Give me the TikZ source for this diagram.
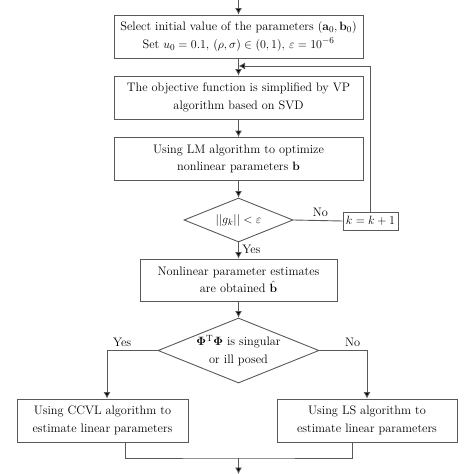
\documentclass[tikz,border=0pt]{standalone}
\usepackage{amsmath,amssymb}
\usepackage{tikz}
\usetikzlibrary{shapes.geometric,arrows.meta,calc}

\begin{document}
\begin{tikzpicture}[x=1pt, y=-1pt,
  every node/.style={font=\fontsize{12.3}{17.5}\selectfont, align=center},
  fcbox/.style={draw=black!65, line width=0.9pt, rectangle, minimum height=43pt, inner sep=1pt},
  process/.style={fcbox, minimum width=249pt},
  decision/.style={draw=black!65, line width=0.9pt, diamond, aspect=2.5, inner sep=-5pt},
  ptr/.style={-{Latex[length=6.5pt,width=7pt,fill=black]}, draw=black!65, line width=0.9pt},
  link/.style={draw=black!65, line width=0.9pt}
]
\useasboundingbox (0,0) rectangle (474,474);
\node[process] (init) at (238.5,36.5) {Select initial value of the parameters $(\mathbf{a}_0, \mathbf{b}_0)$\\ Set $u_0 = 0.1$, $(\rho, \sigma) \in (0, 1)$, $\varepsilon = 10^{-6}$};
\node[process] (obj) at (238.5,97.5) {The objective function is simplified by VP\\ algorithm based on SVD};
\node[process] (lm) at (238.5,159) {Using LM algorithm to optimize\\ nonlinear parameters $\mathbf{b}$};
\node[decision, minimum width=109pt, minimum height=44pt] (test) at (238.5,220) {$||g_k|| < \varepsilon$};
\node[fcbox, minimum width=55pt, minimum height=18pt, inner sep=0pt] (kinc) at (370.5,221) {$k = k + 1$};
\node[fcbox, minimum width=197pt, minimum height=42pt] (est) at (238.5,280) {Nonlinear parameter estimates\\ are obtained $\hat{\mathbf{b}}$};
\node[decision, minimum width=161pt, minimum height=65pt, inner sep=-14pt] (sing) at (238.5,350.5) {$\mathbf{\Phi}^{\mathrm{T}}\mathbf{\Phi}$ is singular\\ or ill posed};
\node[fcbox, minimum width=171pt] (ccvl) at (102.5,420.5) {Using CCVL algorithm to\\ estimate linear parameters};
\node[fcbox, minimum width=180pt] (ls) at (367,420.5) {Using LS algorithm to\\ estimate linear parameters};
\coordinate (start) at (238.5,0);
\coordinate (loop) at (238.5,66);
\coordinate (join) at (238.5,458);
\coordinate (stop) at (238.5,474);
% main line
\draw[ptr] (start) -- (init.north);
\draw[ptr] (init.south) -- (obj.north);
\draw[ptr] (obj.south) -- (lm.north);
\draw[ptr] (lm.south) -- (test.north);
\draw[ptr] (test.south) -- node[right, pos=0.4] {Yes} (est.north);
\draw[ptr] (est.south) -- (sing.north);
% feedback loop
\draw[link] (test.east) -- node[above, pos=0.55] {No} (kinc.west);
\draw[ptr] (kinc.north) |- (loop);
% branches
\draw[ptr] (sing.west) -| node[above, pos=0.35] {Yes} ($(ccvl.north)+(4.5,0)$);
\draw[ptr] (sing.east) -| node[above, pos=0.35] {No} (ls.north);
\draw[link] ($(ccvl.south)+(22.5,0)$) |- (join) -| ($(ls.south)+(-15,0)$);
\draw[ptr] (join) -- (stop);
\end{tikzpicture}
\end{document}
